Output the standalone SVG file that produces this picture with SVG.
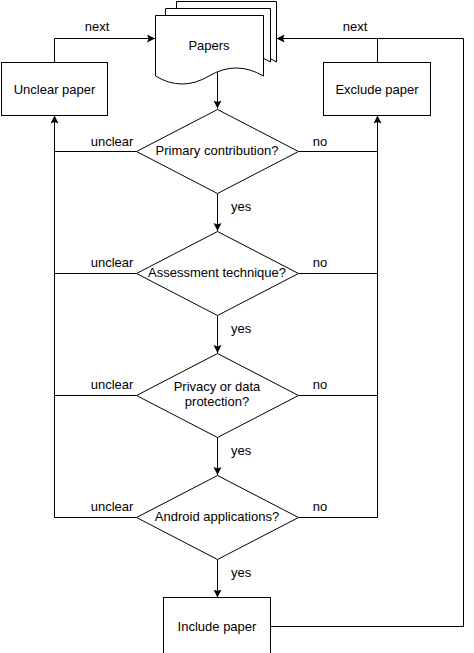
<svg xmlns="http://www.w3.org/2000/svg" width="474" height="653" viewBox="0 0 474 653">
<defs>
<marker id="arr" markerUnits="userSpaceOnUse" markerWidth="10" markerHeight="9" refX="8" refY="4" orient="auto">
<path d="M0,0 L8,4 L0,8 L1.5,4 Z" fill="#000"/>
</marker>
<style>
.n{fill:#fff;stroke:#000;stroke-width:1}
.c{fill:none;stroke:#000;stroke-width:1;marker-end:url(#arr)}
.l{fill:none;stroke:#000;stroke-width:1}
text{font-family:"Liberation Sans",Arial,Helvetica,sans-serif;font-size:13px;fill:#000}
.m{text-anchor:middle}
</style>
</defs>
<rect width="474" height="653" fill="#fff"/>
<g id="connectors">
<path class="c" d="M217.5,72 V108.5"/>
<path class="c" d="M217.5,193.5 V231"/>
<path class="c" d="M217.5,315.5 V353"/>
<path class="c" d="M217.5,437.5 V475"/>
<path class="c" d="M217.5,559.5 V597.5"/>
<path class="l" d="M136.5,151.5 H54.5"/>
<path class="l" d="M136.5,273.5 H54.5"/>
<path class="l" d="M136.5,395.5 H54.5"/>
<path class="c" d="M136.5,517.5 H54.5 V115.5"/>
<path class="l" d="M298.5,151.5 H377.5"/>
<path class="l" d="M298.5,273.5 H377.5"/>
<path class="l" d="M298.5,395.5 H377.5"/>
<path class="c" d="M298.5,517.5 H377.5 V115.5"/>
<path class="c" d="M54.5,62.5 V38.5 H155"/>
<path class="l" d="M377.5,62.5 V38.5"/>
<path class="c" d="M271,626.5 H463.5 V38.5 H276.5"/>
<text class="m" x="97" y="31">next</text>
<text class="m" x="355" y="31">next</text>
<text class="m" x="112" y="146">unclear</text>
<text class="m" x="320" y="146">no</text>
<text x="231" y="211">yes</text>
<text class="m" x="112" y="267">unclear</text>
<text class="m" x="320" y="267">no</text>
<text x="231" y="333">yes</text>
<text class="m" x="112" y="389">unclear</text>
<text class="m" x="320" y="389">no</text>
<text x="231" y="455">yes</text>
<text class="m" x="112" y="511">unclear</text>
<text class="m" x="320" y="511">no</text>
<text x="231" y="577">yes</text>
</g>
<g id="papers">
<path class="n" d="M176.5,1.5 H276.5 V62 Q251,46 226,62 Q201,78 176.5,62 Z"/>
<path class="n" d="M165.5,8.5 H270.5 V62 Q244,46 218,62 Q192,78 165.5,62 Z"/>
<path class="n" d="M155.5,15.5 H263.5 V76 Q236,60 209,76 Q182,92 155.5,76 Z"/>
<text class="m" x="209" y="50">Papers</text>
</g>
<g id="unclear-paper">
<rect class="n" x="1.5" y="62.5" width="106" height="53"/>
<text class="m" x="54.5" y="93.5">Unclear paper</text>
</g>
<g id="exclude-paper">
<rect class="n" x="323.5" y="62.5" width="107" height="53"/>
<text class="m" x="377" y="93.5">Exclude paper</text>
</g>
<g id="primary-contribution">
<path class="n" d="M217.5,109.5 L298.5,151.5 L217.5,193.5 L136.5,151.5 Z"/>
<text class="m" x="217" y="155">Primary contribution?</text>
</g>
<g id="assessment-technique">
<path class="n" d="M217.5,231.5 L298.5,273.5 L217.5,315.5 L136.5,273.5 Z"/>
<text class="m" x="217" y="277">Assessment technique?</text>
</g>
<g id="privacy">
<path class="n" d="M217.5,353.5 L298.5,395.5 L217.5,437.5 L136.5,395.5 Z"/>
<text class="m" x="217" y="391">Privacy or data</text>
<text class="m" x="217" y="406">protection?</text>
</g>
<g id="android">
<path class="n" d="M217.5,475.5 L298.5,517.5 L217.5,559.5 L136.5,517.5 Z"/>
<text class="m" x="217" y="521">Android applications?</text>
</g>
<g id="include-paper">
<rect class="n" x="163.5" y="597.5" width="107" height="58"/>
<text class="m" x="217" y="630.5">Include paper</text>
</g>
</svg>
